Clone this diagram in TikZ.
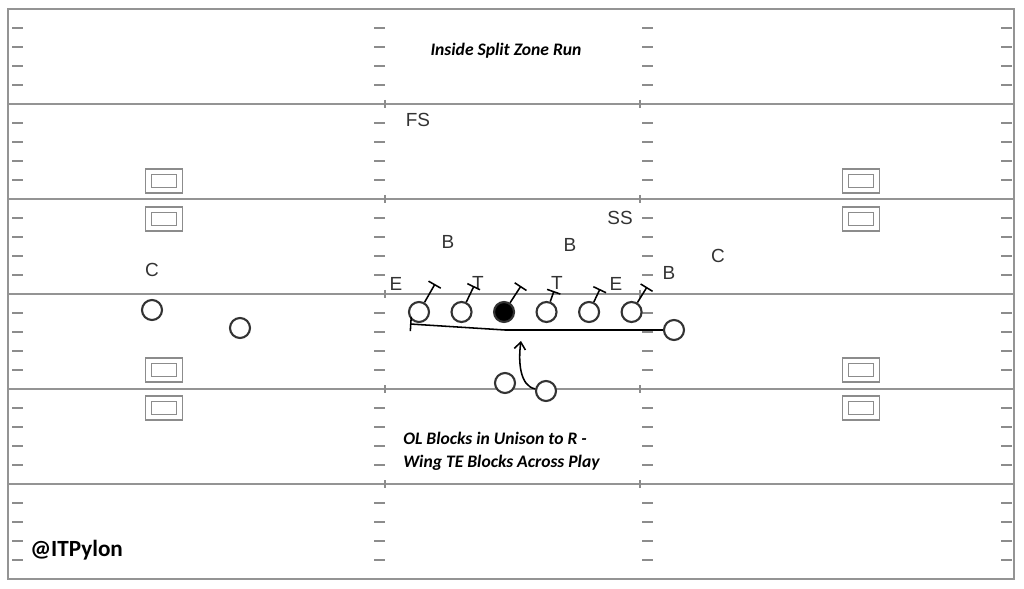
\documentclass[tikz,border=0pt]{standalone}
\usepackage{fontspec}
\setmainfont{Liberation Sans}
\newfontfamily\calibri{Carlito}
\usetikzlibrary{positioning,arrows.meta}

\begin{document}
\begin{tikzpicture}[
                x=0.025cm, y=-0.025cm,
                field/.style={draw=black!42, line width=1.5pt},
                hash/.style={draw=black!45, line width=1.4pt},
                numbox/.style={draw=black!45, line width=1pt, double=white, double distance=3pt, minimum width=0.775cm, minimum height=0.46cm, inner sep=0pt},
                player/.style={circle, draw=black!80, line width=1.5pt, fill=white, minimum size=0.5cm, inner sep=0pt},
                ball/.style={player, fill=black},
                defender/.style={text=black!80, inner sep=0pt, font=\fontsize{13.5}{16}\selectfont},
                note/.style={inner sep=0pt, font=\calibri\bfseries\itshape\fontsize{12.5}{16.3}\selectfont},
                block/.style={draw, line width=1.1pt, -{Bar[width=10pt, line width=1.1pt]}},
                run/.style={draw, line width=1.1pt, -{Straight Barb[length=5pt, width=8pt]}}
                ]
                \useasboundingbox (0,0) rectangle (1024,589);
                % Field
                \draw[field] (8,9) rectangle (1014,579);
                \foreach \y in {104,199,294,389,484} {
                  \draw[field] (8,\y) -- (1014,\y);
                  \draw[hash] (385,\y-4) -- (385,\y+4);
                  \draw[hash] (640,\y-4) -- (640,\y+4);
                }
                \foreach \m in {0,...,5}
                  \foreach \k in {1,...,4} {
                    \pgfmathsetmacro{\hy}{9+95*\m+19*\k}
                    \foreach \x in {12,374,642,1001}
                      \draw[hash] (\x,\hy) -- ++(11,0);
                  }
                % Number boxes
                \node[numbox] (N1) at (164,181) {};
                \node[numbox] (N2) at (164,219) {};
                \node[numbox] (N3) at (164,370) {};
                \node[numbox] (N4) at (164,408) {};
                \node[numbox] (N5) at (861,181) {};
                \node[numbox] (N6) at (861,219) {};
                \node[numbox] (N7) at (861,370) {};
                \node[numbox] (N8) at (861,408) {};
                % Defense
                \node[defender] (FS) at (418,120) {FS};
                \node[defender] (SS) at (620,218) {SS};
                \node[defender] (LB1) at (448,242) {B};
                \node[defender] (LB2) at (570,245) {B};
                \node[defender] (LB3) at (669,273) {B};
                \node[defender] (CB1) at (152,270) {C};
                \node[defender] (CB2) at (718,256) {C};
                \node[defender] (DE1) at (396,284) {E};
                \node[defender] (DT1) at (478,283) {T};
                \node[defender] (DT2) at (557,283) {T};
                \node[defender] (DE2) at (616,284) {E};
                % Offense
                \node[player] (WR1) at (152,310) {};
                \node[player] (WR2) at (240,328) {};
                \node[player] (O1) at (419,312) {};
                \node[player, right=0.51cm of O1] (O2) {};
                \node[ball, right=0.51cm of O2] (O3) {};
                \node[player, right=0.51cm of O3] (O4) {};
                \node[player, right=0.51cm of O4] (O5) {};
                \node[player, right=0.51cm of O5] (O6) {};
                \node[player] (TE) at (674,330) {};
                \node[player] (QB) at (505,383) {};
                \node[player] (RB) at (546,391) {};
                % Blocks
                \coordinate (k1) at (435,284);
                \coordinate (k2) at (474,286);
                \coordinate (k3) at (521,286);
                \coordinate (k4) at (554,291);
                \coordinate (k5) at (600,289);
                \coordinate (k6) at (647,287);
                \coordinate (k7) at (505,330);
                \coordinate (k8) at (410,324);
                \coordinate (k9) at (521,341);
                \draw[block] (O1) -- (k1);
                \draw[block] (O2) -- (k2);
                \draw[block] (O3) -- (k3);
                \draw[block] (O4) -- (k4);
                \draw[block] (O5) -- (k5);
                \draw[block] (O6) -- (k6);
                \draw[block] (TE) -- (k7) -- (k8);
                % Run path
                \draw[run] (RB) .. controls (520,386) and (518,362) .. (k9);
                % Texts
                \node[note] (title) at (506,51) {Inside Split Zone Run};
                \node[note, anchor=west, align=left] (desc) at (403,451) {OL Blocks in Unison to R -\\Wing TE Blocks Across Play};
                \node[anchor=west, inner sep=0pt, font=\calibri\bfseries\fontsize{16.5}{18}\selectfont] (handle) at (30,550) {@ITPylon};
              \end{tikzpicture}
\end{document}
